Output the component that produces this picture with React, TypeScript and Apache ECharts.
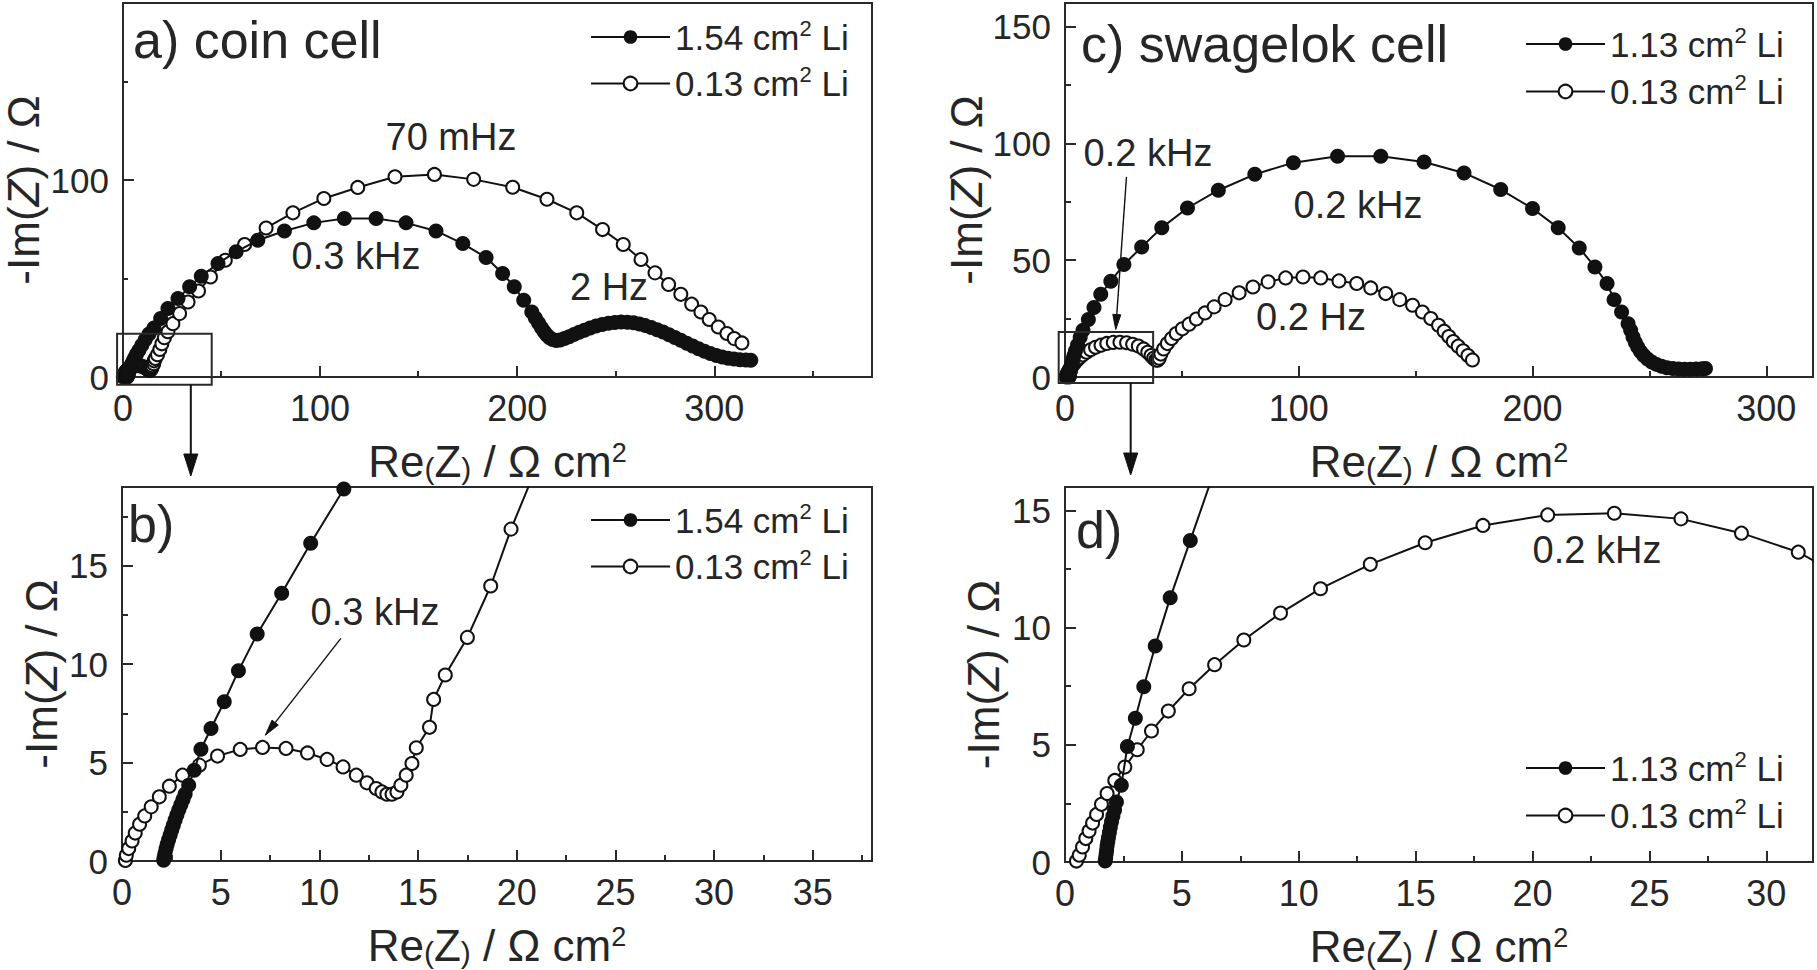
import React, { useEffect, useRef } from 'react';
import * as echarts from 'echarts';

const FONT = "'Liberation Sans', Arial, Helvetica, sans-serif";
const TEXT = '#262626';
const INK = '#111111';
const FRAME = '#2a2a2a';

// ---------------- data (Re(Z), -Im(Z)) ----------------
const coinNames = ['1.54 cm² Li', '0.13 cm² Li'];
const swagelokNames = ['1.13 cm² Li', '0.13 cm² Li'];

// coin cell, 1.54 cm2 Li (filled)
const coin154: number[][] = [
  [2.11, 0.04], [2.14, 0.2], [2.18, 0.4], [2.23, 0.62], [2.29, 0.85], [2.36, 1.08], [2.44, 1.32],
  [2.52, 1.57], [2.6, 1.82], [2.69, 2.08], [2.78, 2.34], [2.88, 2.6], [2.98, 2.86], [3.09, 3.12],
  [3.2, 3.4], [3.38, 3.85], [3.66, 4.61], [4.0, 5.68], [4.51, 6.73], [5.18, 8.09], [5.9, 9.66],
  [6.85, 11.53], [8.09, 13.6], [9.56, 16.14], [11.24, 18.9], [13.2, 21.8], [15.7, 24.9], [19.1, 29.7],
  [22.8, 34.8], [27.9, 39.9], [33.8, 45.8], [39.7, 51.2], [48.2, 57.7], [57.4, 63.6], [68.4, 69.5],
  [81.9, 74.2], [96.8, 78.3], [112.3, 80.5], [128.4, 80.5], [143.6, 78.3], [158.8, 74.2], [172.4, 67.8],
  [184.2, 60.7], [192.6, 52.6], [198.5, 45.8], [203.3, 39.0], [207.4, 33.0], [209.2, 30.0], [210.8, 27.4],
  [212.3, 25.0], [213.7, 23.0], [215.0, 21.3], [216.4, 19.9], [218.0, 19.0], [219.8, 18.6], [221.8, 18.8],
  [224.0, 19.5], [226.3, 20.5], [228.8, 21.6], [231.4, 22.7], [234.1, 23.8], [237.0, 24.9], [240.0, 25.9],
  [243.1, 26.7], [246.3, 27.3], [249.5, 27.7], [252.7, 27.9], [255.9, 27.8], [259.0, 27.5], [262.0, 26.9],
  [265.0, 26.1], [268.0, 25.1], [271.0, 24.0], [274.0, 22.8], [277.0, 21.5], [280.0, 20.1], [283.0, 18.7],
  [286.0, 17.2], [289.0, 15.8], [292.0, 14.4], [295.0, 13.1], [298.0, 11.9], [301.0, 10.9], [304.0, 10.1],
  [307.0, 9.5], [310.0, 9.1], [313.0, 8.8], [316.0, 8.6], [318.5, 8.5],
];

// coin cell, 0.13 cm2 Li (open)
const coin013: number[][] = [
  [0.17, 0.03], [0.22, 0.29], [0.34, 0.63], [0.51, 1.02], [0.67, 1.42], [0.89, 1.87], [1.15, 2.29],
  [1.48, 2.75], [1.89, 3.26], [2.4, 3.8], [3.07, 4.36], [3.92, 4.87], [4.84, 5.33], [5.99, 5.67],
  [7.12, 5.77], [8.31, 5.72], [9.4, 5.49], [10.39, 5.16], [11.2, 4.78], [11.87, 4.36], [12.41, 3.97],
  [12.88, 3.68], [13.17, 3.51], [13.42, 3.39], [13.68, 3.39], [13.93, 3.51], [14.13, 3.85], [14.4, 4.36],
  [14.69, 4.95], [14.91, 5.75], [15.58, 6.79], [15.79, 8.21], [16.38, 9.45], [17.5, 11.36], [18.68, 13.97],
  [19.71, 16.86], [21.0, 20.0], [22.8, 23.0], [25.3, 27.1], [28.7, 32.2], [33.0, 38.1], [38.3, 43.7],
  [44.4, 50.8], [51.9, 59.3], [61.7, 67.3], [72.6, 75.7], [86.2, 83.4], [101.9, 90.7], [119.1, 96.3],
  [138.0, 101.7], [158.0, 102.9], [177.9, 100.4], [197.7, 96.4], [215.1, 90.3], [230.2, 83.4],
  [243.3, 74.9], [253.8, 67.3], [262.8, 59.7], [269.9, 52.9], [276.8, 47.0], [283.0, 42.0], [288.5, 37.0],
  [293.2, 33.0], [297.4, 29.2], [302.0, 25.4], [306.4, 22.1], [310.1, 19.5], [314.0, 17.3],
];

// swagelok cell, 1.13 cm2 Li (filled)
const swagelok113: number[][] = [
  [1.72, 0.04], [1.74, 0.18], [1.76, 0.34], [1.78, 0.5], [1.8, 0.68], [1.83, 0.86], [1.86, 1.05],
  [1.9, 1.26], [1.94, 1.48], [1.99, 1.72], [2.05, 1.96], [2.12, 2.22], [2.2, 2.56], [2.41, 3.27],
  [2.67, 4.93], [3.01, 6.13], [3.37, 7.48], [3.86, 9.22], [4.5, 11.27], [5.36, 13.72], [6.5, 17.0],
  [7.7, 20.0], [10.0, 24.6], [12.4, 29.7], [15.3, 35.4], [19.6, 41.0], [25.2, 48.1], [32.8, 55.6],
  [41.4, 63.9], [52.4, 72.3], [65.6, 79.9], [81.2, 86.7], [97.7, 91.7], [116.6, 94.4], [135.1, 94.4],
  [153.6, 92.0], [170.7, 87.3], [186.4, 80.2], [200.0, 72.1], [211.0, 63.8], [220.0, 55.2], [226.7, 47.1],
  [231.9, 40.0], [234.9, 33.1], [238.1, 27.8], [240.9, 22.8], [242.0, 20.0], [243.0, 17.1], [244.0, 14.8],
  [245.0, 12.8], [246.2, 10.9], [247.6, 9.2], [249.2, 7.7], [251.0, 6.4], [253.0, 5.4], [255.2, 4.6],
  [257.5, 4.0], [260.0, 3.6], [262.5, 3.4], [265.0, 3.3], [267.5, 3.3], [270.0, 3.4], [272.5, 3.5],
  [274.0, 3.6],
];

// swagelok cell, 0.13 cm2 Li (open)
const swagelok013: number[][] = [
  [0.49, 0.04], [0.61, 0.29], [0.75, 0.64], [0.89, 1.0], [1.03, 1.32], [1.18, 1.66], [1.35, 2.03],
  [1.56, 2.46], [1.8, 2.92], [2.13, 3.48], [2.56, 4.05], [3.09, 4.79], [3.7, 5.59], [4.42, 6.44],
  [5.31, 7.39], [6.4, 8.42], [7.65, 9.47], [9.22, 10.62], [10.93, 11.66], [13.06, 12.7], [15.41, 13.62],
  [17.88, 14.36], [20.65, 14.81], [23.5, 14.88], [26.35, 14.64], [28.94, 14.03], [31.37, 13.22],
  [33.6, 12.0], [35.4, 10.6], [36.8, 9.2], [37.9, 8.0], [38.8, 7.3], [39.6, 7.2], [40.3, 8.0], [41.0, 9.8],
  [42.2, 12.0], [43.8, 14.3], [45.6, 16.5], [47.6, 18.6], [50.2, 20.6], [53.1, 22.6], [56.2, 24.8],
  [59.9, 27.4], [63.8, 30.0], [68.5, 33.1], [74.5, 36.0], [80.4, 38.5], [86.9, 40.7], [94.4, 42.4],
  [101.8, 42.8], [109.4, 42.4], [117.2, 41.1], [124.8, 40.0], [130.8, 38.1], [137.2, 35.7], [143.2, 33.1],
  [148.7, 30.7], [152.9, 27.8], [156.5, 25.0], [159.8, 22.1], [162.2, 19.6], [164.2, 17.3], [166.1, 15.2],
  [168.2, 13.2], [170.3, 11.2], [172.4, 9.2], [174.3, 7.3],
];

// ---------------- ticks ----------------
const aXLabels = [0, 100, 200, 300];
const aXMinor = [50, 150, 250, 350];
const aYLabels = [0, 100];
const aYMinor = [50, 150];
const bXLabels = [0, 5, 10, 15, 20, 25, 30, 35];
const bXMinor = [2.5, 7.5, 12.5, 17.5, 22.5, 27.5, 32.5, 37.5];
const bYLabels = [0, 5, 10, 15];
const bYMinor = [2.5, 7.5, 12.5, 17.5];
const cXLabels = [0, 100, 200, 300];
const cXMinor = [50, 150, 250];
const cYLabels = [0, 50, 100, 150];
const cYMinor = [25, 75, 125];
const dXLabels = [0, 5, 10, 15, 20, 25, 30];
const dXMinor = [2.5, 7.5, 12.5, 17.5, 22.5, 27.5];
const dYLabels = [0, 5, 10, 15];
const dYMinor = [2.5, 7.5, 12.5];

// annotation texts
const annotations = [
  { text: '70 mHz', x: 451, y: 137 },
  { text: '0.3 kHz', x: 356, y: 256 },
  { text: '2 Hz', x: 609, y: 287 },
  { text: '0.3 kHz', x: 375, y: 612 },
  { text: '0.2 kHz', x: 1148, y: 153 },
  { text: '0.2 kHz', x: 1358, y: 205 },
  { text: '0.2 Hz', x: 1311, y: 317 },
  { text: '0.2 kHz', x: 1597, y: 550 },
];
const panelTitles = [
  { text: 'a) coin cell', x: 133, y: 40 },
  { text: 'b)', x: 128, y: 524 },
  { text: 'c) swagelok cell', x: 1081, y: 44 },
  { text: 'd)', x: 1076, y: 530 },
];

const panels = [
  {
    rect: { left: 122, top: 3, width: 750, height: 374 }, x: [0, 380], y: [0, 190],
    xl: aXLabels, xm: aXMinor, yl: aYLabels, ym: aYMinor, yGap: 78,
    data: [coin154, coin013], names: coinNames, legend: { left: 590, top: 17, gap: 9 },
  },
  {
    rect: { left: 122, top: 487, width: 750, height: 374 }, x: [0, 38], y: [0, 19],
    xl: bXLabels, xm: bXMinor, yl: bYLabels, ym: bYMinor, yGap: 59,
    data: [coin154, coin013], names: coinNames, legend: { left: 590, top: 500, gap: 9 },
  },
  {
    rect: { left: 1065, top: 3, width: 748, height: 374 }, x: [0, 320], y: [0, 160],
    xl: cXLabels, xm: cXMinor, yl: cYLabels, ym: cYMinor, yGap: 77,
    data: [swagelok113, swagelok013], names: swagelokNames, legend: { left: 1525, top: 24, gap: 10 },
  },
  {
    rect: { left: 1065, top: 487, width: 748, height: 375 }, x: [0, 32], y: [0, 16],
    xl: dXLabels, xm: dXMinor, yl: dYLabels, ym: dYMinor, yGap: 60,
    data: [swagelok113, swagelok013], names: swagelokNames, legend: { left: 1525, top: 748, gap: 10 },
  },
];

const nameRich = {
  a: { fontSize: 44, fontFamily: FONT, color: TEXT },
  z: { fontSize: 44, fontFamily: FONT, color: TEXT, fontStyle: 'italic' },
  p: { fontSize: 30, fontFamily: FONT, color: TEXT, verticalAlign: 'bottom' },
  s: { fontSize: 27, fontFamily: FONT, color: TEXT, verticalAlign: 'top' },
};
const X_NAME = '{a|Re}{p|(}{a|Z}{p|)}{a| / Ω cm}{s|2}';
const Y_NAME = '{a|-Im(}{z|Z}{a|) / Ω}';

function buildOption() {
  const n = panels.length;
  const grid: any[] = [];
  const xAxis: any[] = [];
  const yAxis: any[] = [];
  const series: any[] = [];
  const legend: any[] = [];
  panels.forEach((p, i) => {
    grid.push({ ...p.rect, show: true, borderColor: FRAME, borderWidth: 2, backgroundColor: 'transparent' });
    xAxis.push({
      type: 'value', gridIndex: i, min: p.x[0], max: p.x[1], position: 'bottom',
      axisLine: { show: true, onZero: false, lineStyle: { color: FRAME, width: 2 } },
      axisTick: { show: true, inside: true, length: 11, customValues: p.xl, lineStyle: { color: FRAME, width: 2 } },
      axisLabel: { show: true, customValues: p.xl, margin: 13, fontSize: 36, fontFamily: FONT, color: TEXT },
      splitLine: { show: false },
      name: X_NAME, nameLocation: 'middle', nameGap: 62,
      nameTextStyle: { fontSize: 44, fontFamily: FONT, color: TEXT, rich: nameRich },
    });
    yAxis.push({
      type: 'value', gridIndex: i, min: p.y[0], max: p.y[1], position: 'left',
      axisLine: { show: true, onZero: false, lineStyle: { color: FRAME, width: 2 } },
      axisTick: { show: true, inside: true, length: 11, customValues: p.yl, lineStyle: { color: FRAME, width: 2 } },
      axisLabel: { show: true, customValues: p.yl, margin: 14, fontSize: 35, fontFamily: FONT, color: TEXT },
      splitLine: { show: false },
      name: Y_NAME, nameLocation: 'middle', nameGap: p.yGap, nameRotate: 90,
      nameTextStyle: { fontSize: 44, fontFamily: FONT, color: TEXT, rich: nameRich },
    });
    const markerStyles = [
      { symbol: 'circle', symbolSize: 15, itemStyle: { color: INK, borderWidth: 0 } },
      { symbol: 'emptyCircle', symbolSize: 13, itemStyle: { color: INK, borderColor: INK, borderWidth: 2.2 } },
    ];
    p.data.forEach((d, k) => {
      series.push({
        type: 'line', name: p.names[k], xAxisIndex: i, yAxisIndex: i, data: d,
        symbol: markerStyles[k].symbol, symbolSize: markerStyles[k].symbolSize,
        itemStyle: markerStyles[k].itemStyle,
        lineStyle: { color: INK, width: 2 },
        clip: true, emphasis: { disabled: true }, silent: true, z: 3 + (1 - k),
      });
    });
    legend.push({
      data: p.names, orient: 'vertical', left: p.legend.left, top: p.legend.top,
      itemWidth: 79, itemHeight: 17, itemGap: p.legend.gap, padding: 0, selectedMode: false,
      formatter: (name: string) => `{t|${name.split(' ')[0]} cm}{s|2}{t| Li}`,
      textStyle: {
        fontSize: 35, fontFamily: FONT, color: TEXT,
        rich: {
          t: { fontSize: 35, fontFamily: FONT, color: TEXT, lineHeight: 40 },
          s: { fontSize: 22, fontFamily: FONT, color: TEXT, verticalAlign: 'top' },
        },
      },
    });
  });
  // overlay grids for the shorter minor ticks
  panels.forEach((p, i) => {
    grid.push({ ...p.rect, show: false });
    xAxis.push({
      type: 'value', gridIndex: n + i, min: p.x[0], max: p.x[1], position: 'bottom',
      axisLine: { show: false }, axisLabel: { show: false }, splitLine: { show: false },
      axisTick: { show: true, inside: true, length: 6, customValues: p.xm, lineStyle: { color: FRAME, width: 2 } },
    });
    yAxis.push({
      type: 'value', gridIndex: n + i, min: p.y[0], max: p.y[1], position: 'left',
      axisLine: { show: false }, axisLabel: { show: false }, splitLine: { show: false },
      axisTick: { show: true, inside: true, length: 6, customValues: p.ym, lineStyle: { color: FRAME, width: 2 } },
    });
  });
  return {
    animation: false,
    backgroundColor: '#ffffff',
    textStyle: { fontFamily: FONT },
    grid, xAxis, yAxis, series, legend,
  };
}

function arrow(p0: number[], p1: number[], headLen: number, headW: number, lw: number) {
  const dx = p1[0] - p0[0];
  const dy = p1[1] - p0[1];
  const L = Math.sqrt(dx * dx + dy * dy) || 1;
  const ux = dx / L, uy = dy / L;
  const bx = p1[0] - ux * headLen, by = p1[1] - uy * headLen;
  const nx = -uy, ny = ux;
  return [
    { type: 'line', silent: true, z: 20, shape: { x1: p0[0], y1: p0[1], x2: bx, y2: by }, style: { stroke: INK, lineWidth: lw } },
    {
      type: 'polygon', silent: true, z: 20,
      shape: { points: [[p1[0], p1[1]], [bx + nx * headW / 2, by + ny * headW / 2], [bx - nx * headW / 2, by - ny * headW / 2]] },
      style: { fill: INK, stroke: INK, lineWidth: 1 },
    },
  ];
}

function textEl(t: string, x: number, y: number, size: number, align: string) {
  return {
    type: 'text', silent: true, z: 20, x, y,
    style: {
      text: t, fontSize: size, fontFamily: FONT, fill: TEXT,
      align, verticalAlign: 'middle', textAlign: align, textVerticalAlign: 'middle',
    },
  };
}

export default function App() {
  const ref = useRef<HTMLDivElement>(null);
  useEffect(() => {
    if (!ref.current) return;
    const chart = echarts.init(ref.current, null, { renderer: 'svg' });
    chart.setOption(buildOption());
    const px = (g: number, x: number, y: number) =>
      chart.convertToPixel({ xAxisIndex: g, yAxisIndex: g } as any, [x, y]) as number[];

    const graphics: any[] = [];
    // inset boxes
    const boxes = [
      { g: 0, x0: -3, x1: 45, y0: -4, y1: 22 },
      { g: 2, x0: -2.7, x1: 37.7, y0: -2.6, y1: 19.3 },
    ];
    boxes.forEach((b) => {
      const tl = px(b.g, b.x0, b.y1);
      const br = px(b.g, b.x1, b.y0);
      graphics.push({
        type: 'rect', silent: true, z: 20,
        shape: { x: tl[0], y: tl[1], width: br[0] - tl[0], height: br[1] - tl[1] },
        style: { fill: 'none', stroke: FRAME, lineWidth: 2 },
      });
    });
    // arrows from inset boxes to zoomed panels
    const aStart = px(0, 34.4, -4);
    const bTop = px(1, 0, 19)[1];
    graphics.push(...arrow(aStart, [aStart[0], bTop - 11], 22, 14, 2));
    const cStart = px(2, 28.1, -2.6);
    const dTop = px(3, 0, 16)[1];
    graphics.push(...arrow(cStart, [cStart[0], dTop - 12], 22, 14, 2));
    // pointer arrows
    graphics.push(...arrow(px(1, 11.09, 11.31), px(1, 7.26, 6.39), 16, 8, 1.4));
    graphics.push(...arrow(px(2, 26.3, 85.6), px(2, 21.7, 20.3), 15, 8, 1.4));
    annotations.forEach((a) => graphics.push(textEl(a.text, a.x, a.y, 38, 'center')));
    panelTitles.forEach((a) => graphics.push(textEl(a.text, a.x, a.y, 52, 'left')));
    chart.setOption({ graphic: graphics });
    return () => chart.dispose();
  }, []);
  return (
    <div
      ref={ref}
      style={{ position: 'fixed', left: 0, top: 0, width: 1817, height: 970, background: '#ffffff' }}
    />
  );
}
